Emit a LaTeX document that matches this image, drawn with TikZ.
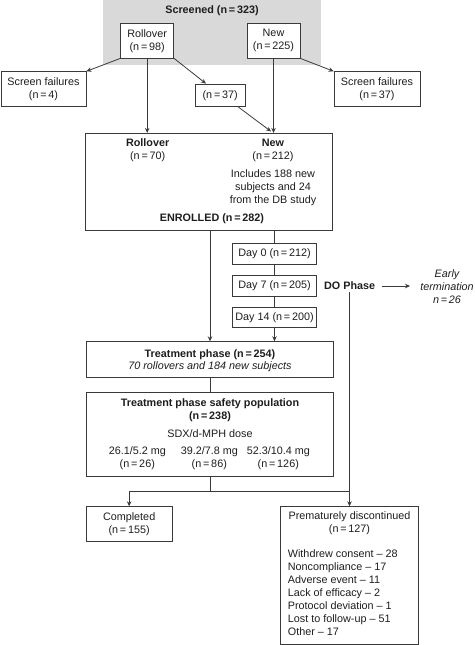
\documentclass[tikz,border=0pt]{standalone}
\usepackage{fontspec}
\setmainfont{Liberation Sans}
\usetikzlibrary{arrows.meta}
\definecolor{ln}{HTML}{3A3A3A}
\definecolor{tx}{HTML}{1E1E1E}
\definecolor{scr}{HTML}{D9D9D9}
\newcommand{\fs}{\fontsize{10.8}{13}\selectfont}
\newcommand{\nn}[1]{(n\,=\,#1)}
\begin{document}
\begin{tikzpicture}[x=1pt,y=-1pt, font=\fs, text=tx,
  box/.style={draw=ln, line width=0.8pt, inner sep=0pt, fill=white, align=center},
  lbl/.style={inner sep=0pt, align=center},
  bftext/.style={lbl, font=\fs\bfseries},
  ittext/.style={lbl, font=\fs\itshape},
  arr/.style={draw=ln, line width=0.8pt, -{Stealth[length=5pt,width=4.5pt]}},
  conn/.style={draw=ln, line width=0.8pt}]
\useasboundingbox (0,0) rectangle (474,645);

% screened area
\node[fill=scr, minimum width=218pt, minimum height=65pt, inner sep=0pt] (screened) at (212,32.5) {};
\node[bftext] (screenedlbl) at (212,11) {Screened \nn{323}};

\node[box, minimum width=53pt, minimum height=34.3pt] (rollover) at (147.2,40.85) {Rollover\\\nn{98}};
\node[box, minimum width=53pt, minimum height=34.3pt] (new) at (273.5,40.85) {New\\\nn{225}};

\node[box, minimum width=85pt, minimum height=35pt] (sfL) at (43.5,89.2) {Screen failures\\\nn{4}};
\node[box, minimum width=49.7pt, minimum height=22.7pt] (n37) at (220.2,95.35) {\nn{37}};
\node[box, minimum width=86pt, minimum height=35pt] (sfR) at (377,89.2) {Screen failures\\\nn{37}};

% enrolled
\node[box, minimum width=247pt, minimum height=96.7pt] (enrolled) at (208.5,181.65) {};
\node[lbl] (enrRoll) at (147.7,150.5) {\textbf{Rollover}\\\nn{70}};
\node[lbl] (enrNew) at (273,150.5) {\textbf{New}\\\nn{212}};
\node[lbl] (enrInc) at (273,187.8) {Includes 188 new\\subjects and 24\\from the DB study};
\node[bftext] (enrTot) at (212,219) {ENROLLED \nn{282}};

% days
\node[box, minimum width=84.3pt, minimum height=21pt] (day0) at (274.5,253.8) {Day 0 \nn{212}};
\node[box, minimum width=84.3pt, minimum height=20.3pt] (day7) at (274.5,285.85) {Day 7 \nn{205}};
\node[box, minimum width=84.3pt, minimum height=20pt] (day14) at (274.5,317.7) {Day 14 \nn{200}};

\node[bftext] (do) at (349.7,286) {DO Phase};
\node[ittext] (early) at (447,286.5) {Early\\termination\\n\,=\,26};
\coordinate (arrS) at (382,286);
\coordinate (arrE) at (410,286);

% treatment
\node[box, minimum width=246.7pt, minimum height=36pt] (treat) at (210,359.7) {};
\node[bftext] (treatT) at (210,355) {Treatment phase \nn{254}};
\node[ittext] (treatS) at (210,366.7) {70 rollovers and 184 new subjects};

\node[box, minimum width=246.7pt, minimum height=83.7pt] (safety) at (210,434.15) {};
\node[bftext] (safT) at (210,410) {Treatment phase safety population\\\nn{238}};
\node[lbl] (safD) at (210,433.3) {SDX/d-MPH dose};
\node[lbl] (dose1) at (137.3,458.3) {26.1/5.2 mg\\\nn{26}};
\node[lbl] (dose2) at (209.3,458.3) {39.2/7.8 mg\\\nn{86}};
\node[lbl] (dose3) at (278.3,458.3) {52.3/10.4 mg\\\nn{126}};

% outcomes
\node[box, minimum width=86.3pt, minimum height=34.3pt] (completed) at (129.15,523.85) {Completed\\\nn{155}};
\node[box, minimum width=138.3pt, minimum height=137.8pt] (prem) at (349.5,575.6) {};
\node[lbl] (premT) at (349.5,523.3) {Prematurely discontinued\\\nn{127}};
\node[lbl, align=left, anchor=north west] (premL) at (287.7,549.3) {Withdrew consent -- 28\\Noncompliance -- 17\\Adverse event -- 11\\Lack of efficacy -- 2\\Protocol deviation -- 1\\Lost to follow-up -- 51\\Other -- 17};

\coordinate (split) at (210,491.7);
\coordinate (splitL) at (129.15,491.7);
\coordinate (splitR) at (349.5,491.7);

% connectors
\draw[arr] (rollover.south west) -- (sfL.north east);
\draw[arr] (rollover.south) -- (rollover.south |- enrolled.north);
\draw[arr] (rollover.south east) -- ([xshift=11pt]n37.north west);
\draw[arr] ([xshift=-7pt]n37.south east) -- ([xshift=-2.5pt,yshift=1.5pt]enrolled.north -| new.south);
\draw[arr] (new.south) -- (new.south |- enrolled.north);
\draw[arr] (new.south east) -- (sfR.north west);

\draw[arr] (enrolled.south -| treat.north) -- (treat.north);
\draw[conn] (enrolled.south -| day0.north) -- (day0.north);
\draw[conn] (day0.south) -- (day7.north);
\draw[conn] (day7.south) -- (day14.north);
\draw[arr] (day14.south) -- (day14.south |- treat.north);

\draw[arr] (arrS) -- (arrE);
\draw[conn] ([yshift=-2pt]do.south -| splitR) -- (splitR);

\draw[conn] (treat.south) -- (safety.north);
\draw[conn] (safety.south) -- (split);
\draw[conn] (splitL) -- (splitR);
\draw[arr] (splitL) -- (completed.north);
\draw[arr] (splitR) -- (prem.north);
\end{tikzpicture}
\end{document}
